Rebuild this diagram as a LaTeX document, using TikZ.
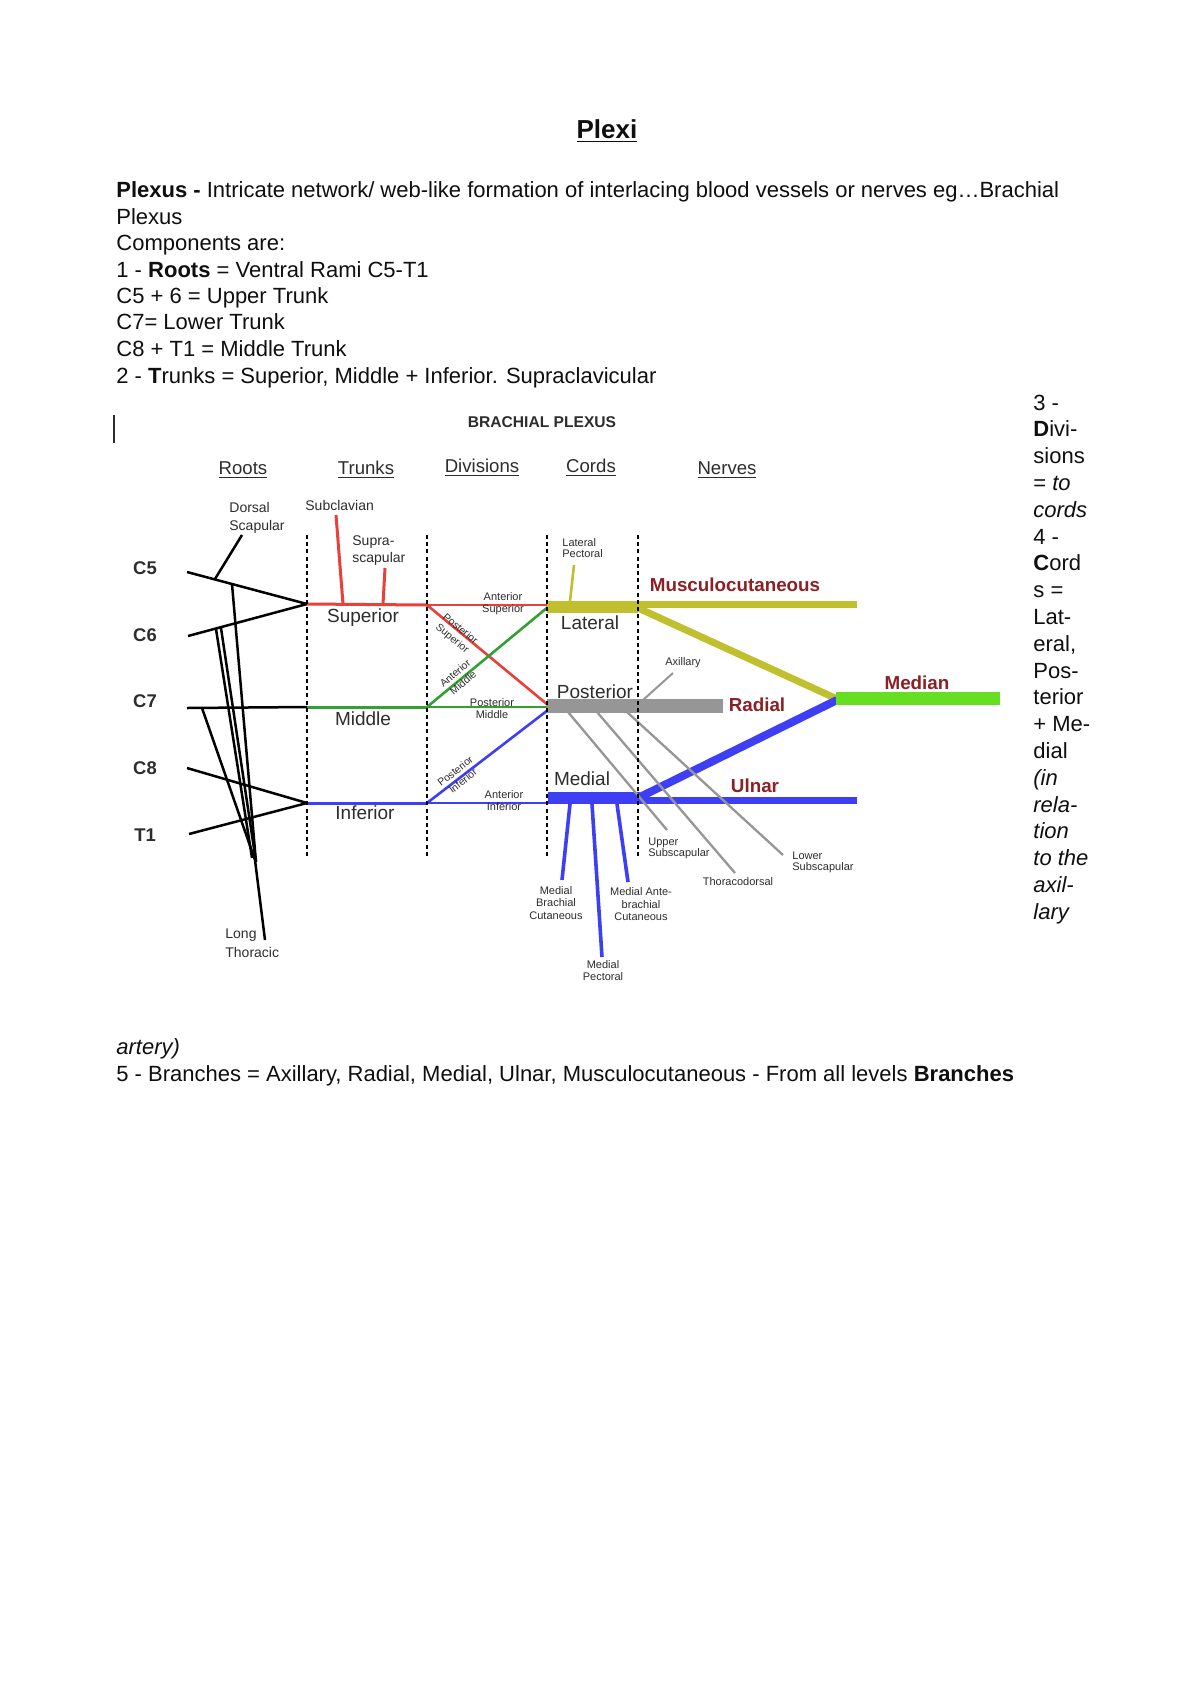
\documentclass[tikz,border=0pt]{standalone}
\usepackage{fontspec}
\setmainfont{Liberation Sans}
\definecolor{txt}{RGB}{15,15,15}
\definecolor{dtxt}{RGB}{45,45,45}
\definecolor{nred}{RGB}{232,64,58}
\definecolor{ngreen}{RGB}{52,160,52}
\definecolor{nblue}{RGB}{62,62,245}
\definecolor{nolive}{RGB}{192,192,46}
\definecolor{ngray}{RGB}{150,150,150}
\definecolor{nlime}{RGB}{102,222,34}
\definecolor{nname}{RGB}{140,32,36}
\begin{document}
\begin{tikzpicture}[x=0.5pt,y=-0.5pt,
  body/.style={anchor=base west,inner sep=0pt,text=txt,font=\fontsize{11}{13.3}\selectfont},
  dotline/.style={line width=1.4pt,dash pattern=on 2pt off 1.6pt,black},
  rootline/.style={line width=1.25pt,black},
  divline/.style={line width=1.3pt},
  head/.style={inner sep=0pt,text=dtxt,font=\fontsize{9.3}{11}\selectfont},
  big/.style={inner sep=0pt,text=dtxt,font=\fontsize{9.5}{11}\selectfont},
  cl/.style={inner sep=0pt,text=dtxt,font=\fontsize{9.2}{11}\bfseries\selectfont},
  nerve/.style={inner sep=0pt,text=nname,font=\fontsize{9.4}{11}\bfseries\selectfont},
  small/.style={inner sep=0pt,text=dtxt,align=left,font=\fontsize{7}{9}\selectfont},
  tiny/.style={inner sep=0pt,text=dtxt,align=center,font=\fontsize{5.5}{6}\selectfont},
  rtiny/.style={inner sep=0pt,text=dtxt,align=center,font=\fontsize{5.2}{6.2}\selectfont},
]
\useasboundingbox[fill=white] (0,0) rectangle (1200,1698);

% ---------- title and text ----------
\node[anchor=base,inner sep=0pt,text=txt,font=\fontsize{13}{15}\bfseries\selectfont] (title) at (607,138) {\underline{Plexi}};
\node[body] (t1) at (116,197) {\textbf{Plexus -} Intricate network/ web-like formation of interlacing blood vessels or nerves eg…Brachial};
\node[body] (t2) at (116,224) {Plexus};
\node[body] (t3) at (116,250) {Components are:};
\node[body] (t4) at (116,277) {1 - \textbf{Roots} = Ventral Rami C5-T1};
\node[body] (t5) at (116,303) {C5 + 6 = Upper Trunk};
\node[body] (t6) at (116,329) {C7= Lower Trunk};
\node[body] (t7) at (116,356) {C8 + T1 = Middle Trunk};
\node[body] (t8) at (116,383) {2 - \textbf{T}runks = Superior, Middle + Inferior. Supraclavicular};
\foreach \w [count=\i] in {{3 -},{\textbf{D}ivi-},{sions},{= \textit{to}},{\textit{cords}},{4 -},{\textbf{C}ord},{s =},{Lat-},{eral,},{Pos-},{terior},{+ Me-},{dial},{\textit{(in}},{\textit{rela-}},{\textit{tion}},{\textit{to the}},{\textit{axil-}},{\textit{lary}}}
  \node[body] (rc\i) at (1033,{410+26.8*(\i-1)}) {\w};
\node[body] (t9) at (116,1054) {\textit{artery)}};
\node[body] (t10) at (116,1081) {5 - Branches = Axillary, Radial, Medial, Ulnar, Musculocutaneous - From all levels \textbf{Branches}};
\coordinate (curA) at (114,415); \coordinate (curB) at (114,443);
\draw[line width=0.9pt,dtxt] (curA) -- (curB);

% ---------- coordinates ----------
\coordinate (d1t) at (307,535); \coordinate (d1b) at (307,857);
\coordinate (d2t) at (427,535); \coordinate (d2b) at (427,857);
\coordinate (d3t) at (547,535); \coordinate (d3b) at (547,857);
\coordinate (d4t) at (638,535); \coordinate (d4b) at (638,857);
\coordinate (r5) at (187,572); \coordinate (r6) at (188,636); \coordinate (r7) at (187,708);
\coordinate (r8) at (187,768); \coordinate (r1) at (189,834);
\coordinate (S0) at (307,604); \coordinate (S1) at (427,605); \coordinate (S2) at (548,605);
\coordinate (M0) at (307,707); \coordinate (M1) at (427,707); \coordinate (M2) at (548,707);
\coordinate (I0) at (307,803); \coordinate (I1) at (427,803); \coordinate (I2) at (548,803);
\coordinate (Lc) at (548,607); \coordinate (Pr) at (548,705); \coordinate (Pb) at (548,710);

% ---------- roots ----------
\draw[rootline] (r5) -- (S0);
\draw[rootline] (r6) -- (S0);
\draw[rootline] (r7) -- (M0);
\draw[rootline] (r8) -- (I0);
\draw[rootline] (r1) -- (I0);
\coordinate (ds0) at (215,579); \coordinate (ds1) at (242,535);
\draw[rootline] (ds0) -- (ds1);
\coordinate (lt5) at (232,584); \coordinate (lt6a) at (216,629); \coordinate (lt6b) at (221,628); \coordinate (lt7) at (202,708);
\coordinate (LTa) at (256,862); \coordinate (LTb) at (252,858); \coordinate (LTc) at (255,860); \coordinate (LTe) at (265,940);
\draw[rootline] (lt5) -- (LTa);
\draw[rootline] (lt6a) -- (LTb);
\draw[rootline] (lt6b) -- (LTa);
\draw[rootline] (lt7) -- (LTc);
\draw[rootline] (LTc) -- (LTe);

% ---------- trunks and divisions ----------
\draw[nred,line width=1.5pt] (S0) -- (S1);
\draw[nred,divline] (S1) -- (S2);
\draw[nred,divline] (S1) -- (Pr);
\coordinate (sc0) at (336,515); \coordinate (sc1) at (343,604);
\draw[nred,line width=1.5pt] (sc0) -- (sc1);
\coordinate (ss0) at (385,568); \coordinate (ss1) at (383,604);
\draw[nred,line width=1.5pt] (ss0) -- (ss1);
\draw[ngreen,line width=1.5pt] (M0) -- (M1);
\draw[ngreen,divline] (M1) -- (M2);
\draw[ngreen,divline] (M1) -- (Lc);
\draw[nblue,line width=1.5pt] (I0) -- (I1);
\draw[nblue,divline] (I1) -- (I2);
\draw[nblue,divline] (I1) -- (Pb);

% ---------- cords and nerves ----------
\coordinate (lb0) at (547,607); \coordinate (lb1) at (638,607);
\coordinate (mc0) at (638,604.5); \coordinate (mc1) at (857,604.5);
\coordinate (od0) at (638,608); \coordinate (md0) at (836,698.5); \coordinate (md1) at (1000,698.5);
\coordinate (pb0) at (547,706); \coordinate (pb1) at (723,706);
\coordinate (mb0) at (548,798); \coordinate (mb1) at (640,798);
\coordinate (ul0) at (640,800.5); \coordinate (ul1) at (857,800.5);
\coordinate (bd0) at (640,797); \coordinate (bd1) at (837,700);
\draw[nolive,line width=3.5pt] (od0) -- (md0);
\draw[nblue,line width=4pt] (bd0) -- (bd1);
\draw[nlime,line width=6.5pt] (md0) -- (md1);
\draw[nolive,line width=6pt] (lb0) -- (lb1);
\draw[nolive,line width=3.5pt] (mc0) -- (mc1);
\draw[ngray,line width=7pt] (pb0) -- (pb1);
\draw[nblue,line width=6pt] (mb0) -- (mb1);
\draw[nblue,line width=3.5pt] (ul0) -- (ul1);
\coordinate (lp0) at (574,565); \coordinate (lp1) at (570,601);
\draw[nolive,line width=1.3pt] (lp0) -- (lp1);
\coordinate (ax0) at (673,673); \coordinate (ax1) at (643,700);
\draw[ngray,line width=1pt] (ax0) -- (ax1);
\coordinate (us0) at (568,712); \coordinate (us1) at (667,830);
\coordinate (td0) at (597,712); \coordinate (td1) at (735,873);
\coordinate (ls0) at (627,712); \coordinate (ls1) at (783,855);
\draw[ngray,line width=1.15pt] (us0) -- (us1);
\draw[ngray,line width=1.15pt] (td0) -- (td1);
\draw[ngray,line width=1.15pt] (ls0) -- (ls1);
\coordinate (mbc0) at (570,804); \coordinate (mbc1) at (562,880);
\coordinate (mp0) at (592,804); \coordinate (mp1) at (602,957);
\coordinate (mac0) at (617,804); \coordinate (mac1) at (628,882);
\draw[nblue,line width=1.8pt] (mbc0) -- (mbc1);
\draw[nblue,line width=1.8pt] (mp0) -- (mp1);
\draw[nblue,line width=1.8pt] (mac0) -- (mac1);

% ---------- dotted separators ----------
\draw[dotline] (d1t) -- (d1b);
\draw[dotline] (d2t) -- (d2b);
\draw[dotline] (d3t) -- (d3b);
\draw[dotline] (d4t) -- (d4b);

% ---------- labels ----------
\node[inner sep=0pt,text=dtxt,font=\fontsize{7.8}{9}\bfseries\selectfont] (bp) at (542,422) {BRACHIAL PLEXUS};
\node[head] (hR) at (243,470) {\underline{Roots}};
\node[head] (hT) at (366,470) {\underline{Trunks}};
\node[head] (hD) at (482,468) {\underline{Divisions}};
\node[head] (hC) at (591,468) {\underline{Cords}};
\node[head] (hN) at (727,470) {\underline{Nerves}};
\node[cl] (c5) at (145,568) {C5};
\node[cl] (c6) at (145,635) {C6};
\node[cl] (c7) at (145,701) {C7};
\node[cl] (c8) at (145,768) {C8};
\node[cl] (c1) at (145,835) {T1};
\node[small,anchor=west,font=\fontsize{7}{9}\selectfont] (lDS) at (229,518) {Dorsal\\Scapular};
\node[small,anchor=west] (lSC) at (305,505) {Subclavian};
\node[small,anchor=west,font=\fontsize{7}{8.5}\selectfont] (lSS) at (352,550.5) {Supra-\\scapular};
\node[small,anchor=west,font=\fontsize{7}{9.5}\selectfont] (lLT) at (225,943.5) {Long\\Thoracic};
\node[big] (lSup) at (363,618) {Superior};
\node[big] (lMid) at (363,719) {Middle};
\node[big] (lInf) at (365,813) {Inferior};
\node[big] (lLat) at (590,623) {Lateral};
\node[big] (lPos) at (595,692) {Posterior};
\node[big] (lMed) at (582,779) {Medial};
\node[nerve] (nMC) at (735,585) {Musculocutaneous};
\node[nerve] (nRa) at (757,705) {Radial};
\node[nerve] (nUl) at (755,786) {Ulnar};
\node[nerve] (nMe) at (917,683) {Median};
\node[tiny] (lAS) at (503,604) {Anterior\\Superior};
\node[tiny] (lPM) at (492,709) {Posterior\\Middle};
\node[tiny] (lAI) at (504,801) {Anterior\\Inferior};
\node[rtiny,rotate=-39.6] (lPS) at (456,634) {Posterior\\Superior};
\node[rtiny,rotate=40.3] (lAM) at (459,678) {Anterior\\Middle};
\node[rtiny,rotate=38.2] (lPI) at (459,776) {Posterior\\Inferior};
\node[tiny,anchor=west,align=left,font=\fontsize{5.5}{5.5}\selectfont] (lLP) at (562,548.5) {Lateral\\Pectoral};
\node[tiny] (lAx) at (683,663) {Axillary};
\node[tiny,anchor=west,align=left,font=\fontsize{5.5}{5.5}\selectfont] (lUS) at (648,848.5) {Upper\\Subscapular};
\node[tiny] (lTD) at (738,882) {Thoracodorsal};
\node[tiny,anchor=west,align=left,font=\fontsize{5.5}{5.5}\selectfont] (lLS) at (792,862.5) {Lower\\Subscapular};
\node[tiny,font=\fontsize{5.5}{6.25}\selectfont] (lMBC) at (556,903) {Medial\\Brachial\\Cutaneous};
\node[tiny,font=\fontsize{5.5}{6.25}\selectfont] (lMAC) at (641,904.5) {Medial Ante-\\brachial\\Cutaneous};
\node[tiny] (lMP) at (603,971) {Medial\\Pectoral};
\end{tikzpicture}
\end{document}
